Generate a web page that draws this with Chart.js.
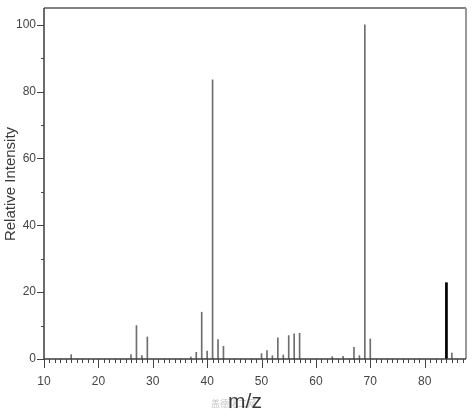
<!DOCTYPE html>
<html><head><meta charset="utf-8">
<script src="https://cdn.jsdelivr.net/npm/chart.js@4"></script>
<style>html,body{margin:0;padding:0;background:#fff;}#wrap{width:474px;height:416px;}</style>
</head><body><div id="wrap"><canvas id="c" width="474" height="416"></canvas></div>
<script>
// m/z values and relative intensities
const mz =        [15, 26, 27, 28, 29, 37, 38, 39, 40, 41, 42, 43, 50, 51, 52, 53, 54, 55, 56, 57, 63, 65, 67, 68, 69, 70, 84, 85];
const intensity = [1.3,1.3,10, 1, 6.6,0.6, 2, 14, 2.4,83.5,5.8,3.8,1.6,2.5, 1, 6.3,1.2, 7, 7.5,7.7,0.7,0.8,3.5, 1, 100, 6, 22.8,1.8];
const molecularIon = 84;
const xTickLabels = [10, 20, 30, 40, 50, 60, 70, 80];
const yTickLabels = [0, 20, 40, 60, 80, 100];
const xTitle = 'm/z';
const yTitle = 'Relative Intensity';
const watermark = '盖德化工网';

const peaks = mz.map((m, i) => ({x: m, y: intensity[i]}));
const ionPeak = peaks.filter(p => p.x === molecularIon);

const axisDecor = {
  id: 'axisDecor',
  afterDraw(chart) {
    const ctx = chart.ctx, a = chart.chartArea;
    const xs = chart.scales.x, ys = chart.scales.y;
    ctx.save();
    // frame top & right
    ctx.strokeStyle = '#5a5a5a'; ctx.lineWidth = 1.5;
    ctx.beginPath(); ctx.moveTo(a.left, a.top); ctx.lineTo(a.right, a.top); ctx.stroke();
    ctx.strokeStyle = '#9a9a9a'; ctx.lineWidth = 2;
    ctx.beginPath(); ctx.moveTo(a.right, a.top); ctx.lineTo(a.right, a.bottom); ctx.stroke();
    // axes
    ctx.strokeStyle = '#3c3c3c'; ctx.lineWidth = 1.5;
    ctx.beginPath(); ctx.moveTo(a.left, a.top); ctx.lineTo(a.left, a.bottom); ctx.lineTo(a.right, a.bottom); ctx.stroke();
    // x ticks
    ctx.lineWidth = 1; ctx.strokeStyle = '#444';
    for (let v = Math.ceil(xs.min); v <= xs.max; v++) {
      const px = Math.round(xs.getPixelForValue(v)) + 0.5;
      const len = (v % 10 === 0) ? 9 : 4;
      ctx.beginPath(); ctx.moveTo(px, a.bottom); ctx.lineTo(px, a.bottom + len); ctx.stroke();
    }
    // y ticks
    for (let v = 0; v <= 100; v += 10) {
      const py = Math.round(ys.getPixelForValue(v)) + 0.5;
      const len = (v % 20 === 0) ? 7 : 3;
      ctx.beginPath(); ctx.moveTo(a.left, py); ctx.lineTo(a.left - len, py); ctx.stroke();
    }
    // titles
    ctx.fillStyle = '#c4c4c4';
    ctx.font = '9px "Noto Sans CJK SC"';
    ctx.textAlign = 'left'; ctx.textBaseline = 'middle';
    ctx.fillText(watermark, 211, 404);
    ctx.fillStyle = '#3a3a3a';
    ctx.font = '21px "Liberation Sans"';
    ctx.textAlign = 'center'; ctx.textBaseline = 'middle';
    ctx.fillText(xTitle, 245, 402);
    ctx.translate(11, 184); ctx.rotate(-Math.PI / 2);
    ctx.font = '15px "Liberation Sans"';
    ctx.fillText(yTitle, 0, 0);
    ctx.restore();
  }
};

new Chart(document.getElementById('c'), {
  type: 'bar',
  data: {
    datasets: [
      { data: peaks, backgroundColor: '#6e6e6e', barThickness: 1, grouped: false, order: 2 },
      { data: ionPeak, backgroundColor: '#000000', barThickness: 2, grouped: false, order: 1 }
    ]
  },
  options: {
    responsive: false, animation: false, devicePixelRatio: 1,
    layout: { padding: { top: 8, right: 8, left: 0, bottom: 0 } },
    plugins: { legend: { display: false }, tooltip: { enabled: false } },
    scales: {
      x: {
        type: 'linear', min: 10, max: 87.6, offset: false,
        grid: { display: false, drawTicks: false }, border: { display: false },
        afterBuildTicks: s => { s.ticks = xTickLabels.map(v => ({ value: v })); },
        ticks: { autoSkip: false, maxRotation: 0, padding: 15, color: '#444',
          font: { family: 'Liberation Sans', size: 12 } },
        afterFit: s => { s.height = 57; s.paddingLeft = 0; s.paddingRight = 0; }
      },
      y: {
        min: 0, max: 105,
        grid: { display: false, drawTicks: false }, border: { display: false },
        afterBuildTicks: s => { s.ticks = yTickLabels.map(v => ({ value: v })); },
        ticks: { autoSkip: false, padding: 8, color: '#444',
          font: { family: 'Liberation Sans', size: 12 } },
        afterFit: s => { s.width = 44; s.paddingTop = 0; s.paddingBottom = 0; }
      }
    }
  },
  plugins: [axisDecor]
});
</script></body></html>
